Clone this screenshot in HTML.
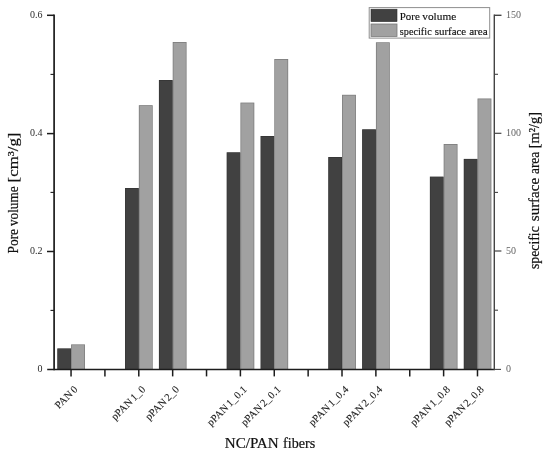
<!DOCTYPE html>
<html><head><meta charset="utf-8"><title>chart</title>
<style>html,body{margin:0;padding:0;background:#fff}svg{display:block}text{font-family:"Liberation Serif",serif}</style></head><body>
<svg width="550" height="454" viewBox="0 0 550 454">
<rect width="550" height="454" fill="#fff"/>
<rect x="57.30" y="348.4" width="13.8" height="20.60" fill="#2e2e2e"/>
<rect x="57.80" y="348.9" width="13.0" height="20.10" fill="#414141"/>
<rect x="71.10" y="344.4" width="13.85" height="24.60" fill="#787878"/>
<rect x="71.80" y="345.09999999999997" width="12.45" height="23.90" fill="#a1a1a1"/>
<rect x="125.04" y="188" width="13.8" height="181.00" fill="#2e2e2e"/>
<rect x="125.54" y="188.5" width="13.0" height="180.50" fill="#414141"/>
<rect x="138.84" y="105.2" width="13.85" height="263.80" fill="#787878"/>
<rect x="139.54" y="105.9" width="12.45" height="263.10" fill="#a1a1a1"/>
<rect x="158.91" y="80" width="13.8" height="289.00" fill="#2e2e2e"/>
<rect x="159.41" y="80.5" width="13.0" height="288.50" fill="#414141"/>
<rect x="172.71" y="42" width="13.85" height="327.00" fill="#787878"/>
<rect x="173.41" y="42.7" width="12.45" height="326.30" fill="#a1a1a1"/>
<rect x="226.65" y="152.3" width="13.8" height="216.70" fill="#2e2e2e"/>
<rect x="227.15" y="152.8" width="13.0" height="216.20" fill="#414141"/>
<rect x="240.45" y="102.6" width="13.85" height="266.40" fill="#787878"/>
<rect x="241.15" y="103.3" width="12.45" height="265.70" fill="#a1a1a1"/>
<rect x="260.52" y="136" width="13.8" height="233.00" fill="#2e2e2e"/>
<rect x="261.02" y="136.5" width="13.0" height="232.50" fill="#414141"/>
<rect x="274.32" y="59" width="13.85" height="310.00" fill="#787878"/>
<rect x="275.02" y="59.7" width="12.45" height="309.30" fill="#a1a1a1"/>
<rect x="328.26" y="157" width="13.8" height="212.00" fill="#2e2e2e"/>
<rect x="328.76" y="157.5" width="13.0" height="211.50" fill="#414141"/>
<rect x="342.06" y="94.8" width="13.85" height="274.20" fill="#787878"/>
<rect x="342.76" y="95.5" width="12.45" height="273.50" fill="#a1a1a1"/>
<rect x="362.13" y="129.3" width="13.8" height="239.70" fill="#2e2e2e"/>
<rect x="362.63" y="129.8" width="13.0" height="239.20" fill="#414141"/>
<rect x="375.93" y="42.3" width="13.85" height="326.70" fill="#787878"/>
<rect x="376.63" y="43.0" width="12.45" height="326.00" fill="#a1a1a1"/>
<rect x="429.87" y="176.6" width="13.8" height="192.40" fill="#2e2e2e"/>
<rect x="430.37" y="177.1" width="13.0" height="191.90" fill="#414141"/>
<rect x="443.67" y="144" width="13.85" height="225.00" fill="#787878"/>
<rect x="444.37" y="144.7" width="12.45" height="224.30" fill="#a1a1a1"/>
<rect x="463.74" y="158.9" width="13.8" height="210.10" fill="#2e2e2e"/>
<rect x="464.24" y="159.4" width="13.0" height="209.60" fill="#414141"/>
<rect x="477.54" y="98.5" width="13.85" height="270.50" fill="#787878"/>
<rect x="478.24" y="99.2" width="12.45" height="269.80" fill="#a1a1a1"/>
<g stroke="#1c1c1c" stroke-width="1.7" fill="none">
<path d="M54.1 14.4V370.2"/>
</g>
<g stroke="#1c1c1c" stroke-width="1.5" fill="none">
<path d="M47.2 369.4H495"/>
<path d="M47 15.3H54"/>
<path d="M47 133.6H54"/>
<path d="M47 251.5H54"/>
<path d="M50.5 74.4H54" stroke-width="1.1"/>
<path d="M50.5 192.4H54" stroke-width="1.1"/>
<path d="M50.5 310.4H54" stroke-width="1.1"/>
<path d="M71.05 369V376.4"/>
<path d="M104.92 369V376.4"/>
<path d="M138.79 369V376.4"/>
<path d="M172.66 369V376.4"/>
<path d="M206.53 369V376.4"/>
<path d="M240.40 369V376.4"/>
<path d="M274.27 369V376.4"/>
<path d="M308.14 369V376.4"/>
<path d="M342.01 369V376.4"/>
<path d="M375.88 369V376.4"/>
<path d="M409.75 369V376.4"/>
<path d="M443.62 369V376.4"/>
<path d="M477.49 369V376.4"/>
</g>
<g stroke="#444" stroke-width="1.2" fill="none">
<path d="M494.3 14.6V370" stroke-width="1.4"/><path d="M494.3 369.4H501" stroke-width="1.1"/>
<path d="M494.3 15.3H501.5" stroke-width="1.4"/>
<path d="M494.4 133.3H501.4"/>
<path d="M494.4 251.0H501.4"/>
<path d="M494.4 74.3H498" stroke-width="1.1"/>
<path d="M494.4 192.4H498" stroke-width="1.1"/>
<path d="M494.4 310.2H498" stroke-width="1.1"/>
</g>
<g font-size="10" fill="#2a2a2a" text-anchor="end">
<text x="42.4" y="18.1">0.6</text>
<text x="42.4" y="136.3">0.4</text>
<text x="42.4" y="254.3">0.2</text>
<text x="42.4" y="372.3">0</text>
</g>
<g font-size="10" fill="#626262" text-anchor="start">
<text x="506" y="17.5">150</text>
<text x="506" y="135.7">100</text>
<text x="506" y="253.7">50</text>
<text x="506" y="372.0">0</text>
</g>
<g font-size="10.5" fill="#1a1a1a" stroke="#1a1a1a" stroke-width="0.1" text-anchor="end" letter-spacing="0.1">
<text transform="translate(78.25 390.0) rotate(-45)">PAN <tspan dx="-1.2" letter-spacing="0.15">0</tspan></text>
<text transform="translate(145.99 390.0) rotate(-45)">pPAN <tspan dx="-1.2" letter-spacing="0.15">1_0</tspan></text>
<text transform="translate(179.86 390.0) rotate(-45)">pPAN <tspan dx="-1.2" letter-spacing="0.15">2_0</tspan></text>
<text transform="translate(247.60 390.0) rotate(-45)">pPAN <tspan dx="-1.2" letter-spacing="0.15">1_0.1</tspan></text>
<text transform="translate(281.47 390.0) rotate(-45)">pPAN <tspan dx="-1.2" letter-spacing="0.15">2_0.1</tspan></text>
<text transform="translate(349.21 390.0) rotate(-45)">pPAN <tspan dx="-1.2" letter-spacing="0.15">1_0.4</tspan></text>
<text transform="translate(383.08 390.0) rotate(-45)">pPAN <tspan dx="-1.2" letter-spacing="0.15">2_0.4</tspan></text>
<text transform="translate(450.82 390.0) rotate(-45)">pPAN <tspan dx="-1.2" letter-spacing="0.15">1_0.8</tspan></text>
<text transform="translate(484.69 390.0) rotate(-45)">pPAN <tspan dx="-1.2" letter-spacing="0.15">2_0.8</tspan></text>
</g>
<text font-size="14.2" fill="#111" stroke="#111" stroke-width="0.2" y="448.4"><tspan x="224.8" textLength="53.8" lengthAdjust="spacingAndGlyphs">NC/PAN</tspan> <tspan x="283.0" textLength="32.2" lengthAdjust="spacingAndGlyphs">fibers</tspan></text>
<text font-size="13.6" fill="#111" stroke="#111" stroke-width="0.2" transform="translate(17.5 253.0) rotate(-90)"><tspan x="-0.40" textLength="24.40" lengthAdjust="spacingAndGlyphs">Pore</tspan> <tspan x="27.00" textLength="39.50" lengthAdjust="spacingAndGlyphs">volume</tspan> <tspan x="70.60" textLength="49.80" lengthAdjust="spacingAndGlyphs">[cm³/g]</tspan></text>
<text font-size="13.8" fill="#111" stroke="#111" stroke-width="0.2" transform="translate(539.4 268.6) rotate(-90)"><tspan x="-0.40" textLength="42.80" lengthAdjust="spacingAndGlyphs">specific</tspan> <tspan x="47.40" textLength="43.30" lengthAdjust="spacingAndGlyphs">surface</tspan> <tspan x="94.60" textLength="22.20" lengthAdjust="spacingAndGlyphs">area</tspan> <tspan x="120.40" textLength="36.20" lengthAdjust="spacingAndGlyphs">[m²/g]</tspan></text>
<rect x="369.2" y="7.6" width="120.5" height="30.5" fill="#fff" stroke="#8e8e8e" stroke-width="1"/>
<rect x="371" y="9.2" width="26" height="12.4" fill="#414141" stroke="#2e2e2e" stroke-width="0.6"/>
<rect x="371" y="24" width="26" height="12.4" fill="#a1a1a1" stroke="#787878" stroke-width="0.8"/>
<g font-size="11.4" fill="#111" stroke="#111" stroke-width="0.15"><text y="19.6"><tspan x="399.80" textLength="20.00" lengthAdjust="spacingAndGlyphs">Pore</tspan> <tspan x="422.30" textLength="33.90" lengthAdjust="spacingAndGlyphs">volume</tspan></text><text y="34.5"><tspan x="399.80" textLength="31.90" lengthAdjust="spacingAndGlyphs">specific</tspan> <tspan x="434.70" textLength="31.50" lengthAdjust="spacingAndGlyphs">surface</tspan> <tspan x="469.20" textLength="18.50" lengthAdjust="spacingAndGlyphs">area</tspan></text></g>
</svg></body></html>
